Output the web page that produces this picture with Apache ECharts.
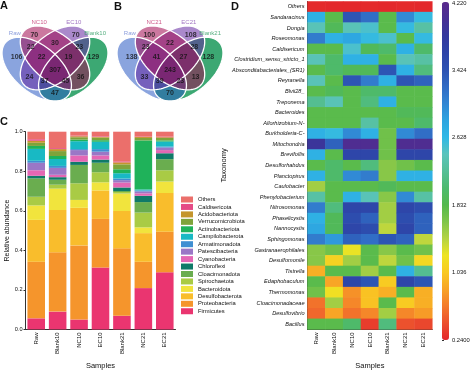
<!DOCTYPE html>
<html>
<head>
<meta charset="utf-8">
<script src="https://cdn.jsdelivr.net/npm/echarts@6/dist/echarts.min.js"></script>
<style>
  html, body { margin: 0; padding: 0; background: #fff; }
  #main { width: 474px; height: 375px; }
</style>
</head>
<body>
<div id="main"></div>
<script>
// samples shared by panel C and D
var samples = ['Raw', 'Blank10', 'NC10', 'EC10', 'Blank21', 'NC21', 'EC21'];

// ---- panel A / B : Venn counts ----
// regions: Raw, NC, EC, Blank, Raw&NC, NC&EC, EC&Blank, Raw&NC&EC, NC&EC&Blank,
//          all, Raw&EC, NC&Blank, Raw&EC&Blank, Raw&NC&Blank, Raw&Blank
var vennCountsA = [106, 70, 70, 129, 22, 30, 23, 22, 19, 307, 24, 36, 37, 45, 47];
var vennCountsB = [138, 100, 108, 128, 23, 22, 28, 41, 27, 243, 33, 13, 39, 23, 70];
var vennNamesA = ['Raw', 'NC10', 'EC10', 'Blank10'];
var vennNamesB = ['Raw', 'NC21', 'EC21', 'Blank21'];

// ---- panel C : relative abundance per phylum (Raw..EC21) ----
var firmicutes       = [0.056, 0.090, 0.050, 0.313, 0.069, 0.209, 0.289];
var proteobacteria   = [0.286, 0.300, 0.375, 0.246, 0.341, 0.133, 0.205];
var desulfobacterota = [0.212, 0.214, 0.190, 0.144, 0.189, 0.145, 0.196];
var bacteroidota     = [0.073, 0.108, 0.040, 0.041, 0.088, 0.029, 0.058];
var spirochaetota    = [0.044, 0.020, 0.084, 0.051, 0.008, 0.075, 0.057];
var cloacimonadota   = [0.093, 0.025, 0.093, 0.048, 0.005, 0.053, 0.056];
var chloroflexi      = [0.013, 0.013, 0.016, 0.016, 0.018, 0.032, 0.030];
var cyanobacteria    = [0.028, 0.012, 0.032, 0.021, 0.025, 0.012, 0.016];
var patescibacteria  = [0.038, 0.035, 0.027, 0.019, 0.012, 0.010, 0.013];
var armatimonadota   = [0.010, 0.010, 0.005, 0.013, 0.008, 0.005, 0.005];
var campilobacterota = [0.060, 0.035, 0.040, 0.037, 0.027, 0.005, 0.025];
var actinobacteriota = [0.015, 0.015, 0.008, 0.008, 0.020, 0.248, 0.006];
var verrucomicrobiota= [0.016, 0.025, 0.012, 0.013, 0.025, 0.012, 0.012];
var acidobacteriota  = [0.010, 0.010, 0.005, 0.004, 0.010, 0.005, 0.004];
var caldisericota    = [0.008, 0.005, 0.003, 0.003, 0.005, 0.002, 0.003];
var othersPhyla      = [0.038, 0.083, 0.020, 0.023, 0.150, 0.025, 0.025];

// legend order (top to bottom)
var phyla = ['Others', 'Caldisericota', 'Acidobacteriota', 'Verrucomicrobiota', 'Actinobacteriota',
  'Campilobacterota', 'Armatimonadota', 'Patescibacteria', 'Cyanobacteria', 'Chloroflexi',
  'Cloacimonadota', 'Spirochaetota', 'Bacteroidota', 'Desulfobacterota', 'Proteobacteria', 'Firmicutes'];
var phylaValues = [othersPhyla, caldisericota, acidobacteriota, verrucomicrobiota, actinobacteriota,
  campilobacterota, armatimonadota, patescibacteria, cyanobacteria, chloroflexi,
  cloacimonadota, spirochaetota, bacteroidota, desulfobacterota, proteobacteria, firmicutes];
var phylaColors = ['#eb6f6b', '#e54b86', '#c4952c', '#7fa33a', '#1fb25a',
  '#18b9c4', '#3f8fd2', '#9a77c6', '#e467b4', '#0f7a68',
  '#6aad4f', '#a9cb45', '#f1e43d', '#f9bd2c', '#f5952c', '#ea3570'];

// ---- panel D : heatmap ----
var taxa = ['Others', 'Sandaracinus', 'Dongia', 'Roseomonas', 'Caldisericum',
  'Clostridium_sensu_stricto_1', 'Absconditabacteriales_(SR1)', 'Reyranella', 'Blvii28_',
  'Treponema', 'Bacteroides', 'Allorhizobium-N-', 'Burkholderia-C-', 'Mitochondria',
  'Brevifollis', 'Desulforhabdus', 'Planctopirus', 'Caulobacter', 'Phenylobacterium',
  'Nitrosomonas', 'Phaselicystis', 'Nannocystis', 'Sphingomonas', 'Gastranaerophilales',
  'Desulfomonile', 'Tistrella', 'Edaphobaculum', 'Thermomonas', 'Cloacimonadaceae',
  'Desulfovibrio', 'Bacillus'];
var heatRaw     = [0.26, 2.7, 2.4, 3.1, 1.8, 2.4, 1.8, 2.4, 1.8, 2.2, 1.8, 1.8, 2.7, 3.9, 2.7, 1.8, 2.7, 1.5, 2.3, 3.1, 2.7, 2.8, 3.1, 1.6, 1.6, 0.9, 1.8, 1.7, 0.6, 0.55, 1.8];
var heatBlank10 = [0.25, 1.8, 1.9, 2.7, 1.8, 2.0, 2.0, 1.8, 1.9, 2.4, 1.8, 1.8, 2.6, 3.3, 1.8, 2.0, 2.0, 1.8, 1.8, 2.1, 1.9, 1.9, 2.9, 1.7, 1.1, 1.8, 0.85, 1.2, 1.5, 0.85, 1.8];
var heatNC10    = [0.25, 3.4, 2.4, 2.8, 2.5, 2.7, 1.9, 3.4, 1.8, 1.8, 1.8, 1.8, 3.0, 4.1, 3.6, 1.8, 3.0, 1.8, 2.7, 3.6, 3.5, 3.6, 3.3, 1.25, 1.5, 1.8, 3.6, 0.75, 0.7, 0.6, 2.0];
var heatEC10    = [0.26, 3.2, 2.5, 2.6, 1.9, 2.7, 1.9, 3.1, 2.0, 2.1, 1.8, 2.3, 2.7, 4.1, 3.6, 2.1, 3.1, 1.8, 2.4, 3.6, 3.3, 3.5, 3.2, 1.8, 1.8, 1.5, 3.4, 1.0, 1.0, 0.7, 0.35];
var heatBlank21 = [0.25, 1.8, 1.8, 2.5, 2.0, 1.8, 3.4, 2.7, 2.0, 2.7, 1.8, 1.8, 1.7, 1.7, 1.7, 1.6, 1.6, 1.9, 1.6, 1.5, 1.5, 1.4, 3.4, 1.6, 1.4, 1.8, 1.05, 0.9, 1.8, 1.5, 2.1];
var heatNC21    = [0.26, 3.0, 2.6, 1.8, 2.7, 2.4, 2.7, 3.4, 1.8, 1.8, 1.9, 1.8, 3.0, 4.1, 3.6, 1.7, 2.7, 1.8, 3.0, 3.6, 3.5, 3.6, 3.3, 1.8, 1.7, 2.7, 3.6, 1.8, 1.05, 0.7, 0.45];
var heatEC21    = [0.25, 2.6, 2.3, 2.6, 2.0, 2.3, 2.1, 3.3, 1.8, 1.8, 1.9, 2.0, 3.2, 4.1, 3.6, 1.8, 2.7, 1.8, 2.3, 3.5, 3.3, 3.3, 1.4, 1.7, 1.15, 2.2, 3.4, 0.9, 0.9, 0.8, 0.4];
var colorTicks = [0.24, 1.036, 1.832, 2.628, 3.424, 4.22];

// ---- Venn geometry (unit square, y up) ----
var ellCx = [0.35, 0.50, 0.50, 0.65];   // Raw, NC, EC, Blank
var ellCy = [0.47, 0.57, 0.57, 0.47];
var ellAng = [-45, -45, 45, 45];
var ellA = 0.35, ellB = 0.20;
var ellFill = ['rgba(42,90,195,0.55)', 'rgba(160,10,80,0.55)', 'rgba(100,40,160,0.55)', 'rgba(11,146,80,0.8)'];
var ellLabelColor = ['#6f86d4', '#c2306c', '#8a52b3', '#2c9b60'];
var drawOrder = [3, 0, 2, 1];
var regionU = [0.185, 0.33, 0.67, 0.815, 0.30, 0.50, 0.70, 0.39, 0.61, 0.50, 0.29, 0.71, 0.415, 0.585, 0.50];
var regionV = [0.58, 0.775, 0.775, 0.58, 0.67, 0.70, 0.67, 0.576, 0.576, 0.462, 0.40, 0.40, 0.364, 0.364, 0.259];
var nameU = [0.17, 0.37, 0.655, 0.83];
var nameV = [0.792, 0.884, 0.884, 0.792];

var chart = echarts.init(document.getElementById('main'));

function ellipseRenderer(withFill) {
  return function (params, api) {
    var cx = api.value(0), cy = api.value(1);
    var phi = api.value(2) * Math.PI / 180;
    var idx = api.value(3);
    var pts = [];
    for (var k = 0; k < 120; k++) {
      var t = 2 * Math.PI * k / 120;
      pts.push(api.coord([
        cx + ellA * Math.cos(t) * Math.cos(phi) - ellB * Math.sin(t) * Math.sin(phi),
        cy + ellA * Math.cos(t) * Math.sin(phi) + ellB * Math.sin(t) * Math.cos(phi)
      ]));
    }
    return {
      type: 'polygon',
      shape: { points: pts },
      style: withFill ? { fill: ellFill[idx], stroke: null } : { fill: 'none', stroke: '#fff', lineWidth: 1.3 }
    };
  };
}

var ellipseData = drawOrder.map(function (i) { return [ellCx[i], ellCy[i], ellAng[i], i]; });

function vennSeries(gi, counts, names) {
  return [
    { type: 'custom', xAxisIndex: gi, yAxisIndex: gi, renderItem: ellipseRenderer(true), data: ellipseData, silent: true },
    { type: 'custom', xAxisIndex: gi, yAxisIndex: gi, renderItem: ellipseRenderer(false), data: ellipseData, silent: true },
    {
      type: 'scatter', xAxisIndex: gi, yAxisIndex: gi, symbolSize: 1, silent: true,
      itemStyle: { color: 'transparent' },
      data: counts.map(function (c, k) { return [regionU[k], regionV[k], c]; }),
      label: { show: true, position: 'inside', formatter: function (p) { return p.value[2]; },
        fontSize: 7, fontWeight: 'bold', color: '#111' }
    },
    {
      type: 'scatter', xAxisIndex: gi, yAxisIndex: gi, symbolSize: 1, silent: true,
      itemStyle: { color: 'transparent' },
      data: names.map(function (n, k) {
        return { value: [nameU[k], nameV[k]], name: n, label: { color: ellLabelColor[k] } };
      }),
      label: { show: true, position: 'inside', formatter: '{b}', fontSize: 6 }
    }
  ];
}

var heatColumns = [heatRaw, heatBlank10, heatNC10, heatEC10, heatBlank21, heatNC21, heatEC21];
var heatData = [];
heatColumns.forEach(function (col, i) {
  col.forEach(function (v, j) { heatData.push([i, j, v]); });
});

var barSeries = [];
for (var p = phyla.length - 1; p >= 0; p--) {
  barSeries.push({
    name: phyla[p], type: 'bar', stack: 'total', xAxisIndex: 2, yAxisIndex: 2,
    barCategoryGap: '18%', itemStyle: { color: phylaColors[p] },
    data: phylaValues[p]
  });
}

function letter(t, x, y) {
  return { type: 'text', x: x, y: y, style: { text: t, font: 'bold 11px "Liberation Sans"', fill: '#111',
    textAlign: 'center', textVerticalAlign: 'middle' } };
}

var axisColor = '#333';
var option = {
  animation: false,
  textStyle: { fontFamily: 'Liberation Sans' },
  graphic: [letter('A', 4, 6), letter('B', 118, 7), letter('C', 4, 122), letter('D', 235, 7)],
  grid: [
    { left: 0.2, top: 14.5, width: 109.6, height: 91.4 },
    { left: 115.2, top: 14.5, width: 109.6, height: 91.4 },
    { left: 25.5, top: 131.7, width: 150, height: 207.6 },
    { left: 307.5, top: 1.5, width: 124.8, height: 338 },
    { left: 442, top: 2, width: 7, height: 338 }
  ],
  xAxis: [
    { gridIndex: 0, type: 'value', min: 0.05, max: 0.95, show: false },
    { gridIndex: 1, type: 'value', min: 0.05, max: 0.95, show: false },
    {
      gridIndex: 2, type: 'category', data: samples,
      name: 'Samples', nameLocation: 'middle', nameGap: 31,
      nameTextStyle: { fontSize: 7.5, color: '#111' },
      axisLine: { lineStyle: { color: axisColor } },
      axisTick: { alignWithLabel: true, length: 2, lineStyle: { color: axisColor } },
      axisLabel: { rotate: 90, fontSize: 6, color: '#111', interval: 0, margin: 3 }
    },
    {
      gridIndex: 3, type: 'category', data: samples,
      name: 'Samples', nameLocation: 'middle', nameGap: 29,
      nameTextStyle: { fontSize: 7.5, color: '#111' },
      axisLine: { lineStyle: { color: axisColor } },
      axisTick: { alignWithLabel: true, length: 2, lineStyle: { color: axisColor } },
      axisLabel: { rotate: 90, fontSize: 6, color: '#111', interval: 0, margin: 3 }
    },
    { gridIndex: 4, type: 'value', show: false }
  ],
  yAxis: [
    { gridIndex: 0, type: 'value', min: 0.142, max: 0.958, show: false },
    { gridIndex: 1, type: 'value', min: 0.142, max: 0.958, show: false },
    {
      gridIndex: 2, type: 'value', min: 0, max: 1, interval: 0.2,
      name: 'Relative abundance', nameLocation: 'middle', nameGap: 14,
      nameTextStyle: { fontSize: 7, color: '#111' },
      axisLine: { show: true, lineStyle: { color: axisColor } },
      axisTick: { show: true, length: 2, lineStyle: { color: axisColor } },
      splitLine: { show: false },
      axisLabel: { fontSize: 5.6, color: '#111', margin: 3, formatter: function (v) { return v.toFixed(1); } }
    },
    {
      gridIndex: 3, type: 'category', data: taxa, inverse: true,
      name: 'Taxonomy', nameLocation: 'middle', nameGap: 78,
      nameTextStyle: { fontSize: 7.5, color: '#111' },
      axisLine: { lineStyle: { color: axisColor } },
      axisTick: { alignWithLabel: true, length: 2, lineStyle: { color: axisColor } },
      axisLabel: { fontSize: 5.6, fontStyle: 'italic', color: '#111', interval: 0, margin: 3 }
    },
    {
      gridIndex: 4, type: 'value', min: 0.24, max: 4.22, position: 'right',
      axisLine: { show: false },
      splitLine: { show: false },
      axisTick: { show: true, length: 2, customValues: colorTicks, lineStyle: { color: axisColor } },
      axisLabel: {
        fontSize: 5.8, color: '#111', margin: 3, customValues: colorTicks,
        formatter: function (v) { return Math.abs(v - 0.24) < 1e-6 ? '0.2400' : v.toFixed(3); }
      }
    }
  ],
  legend: {
    data: phyla, orient: 'vertical', left: 181, top: 196.5, padding: 0,
    icon: 'rect', itemWidth: 12, itemHeight: 6, itemGap: 1.45, selectedMode: false,
    textStyle: { fontSize: 5.8, lineHeight: 6, color: '#111' }
  },
  visualMap: {
    type: 'continuous', seriesIndex: 8, min: 0.24, max: 4.22, dimension: 2,
    left: 442, top: 2, itemWidth: 7, itemHeight: 338, padding: 0,
    calculable: false, text: null, hoverLink: false,
    inRange: { color: ['#e3262b', '#ec4f2d', '#f47a2b', '#f8a326', '#f9c922', '#eee423', '#b4d342',
      '#7fc549', '#53b94d', '#4dba6f', '#55bf97', '#5ac4bd', '#2fb8e6', '#2ea4e0', '#3286d3',
      '#316bc4', '#2d52b2', '#2e44a8', '#34399e', '#472f94', '#5a2a8c'] }
  },
  series: vennSeries(0, vennCountsA, vennNamesA)
    .concat(vennSeries(1, vennCountsB, vennNamesB))
    .concat([{
      type: 'heatmap', xAxisIndex: 3, yAxisIndex: 3, data: heatData, silent: true,
      emphasis: { disabled: true }
    }])
    .concat(barSeries)
};

chart.setOption(option);
window.addEventListener('resize', function () { chart.resize(); });
</script>
</body>
</html>
